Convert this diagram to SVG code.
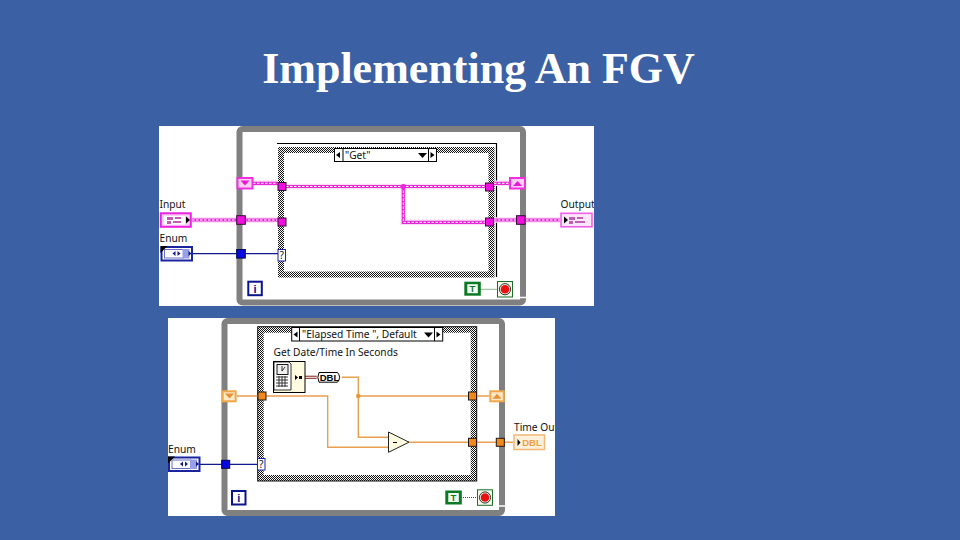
<svg xmlns="http://www.w3.org/2000/svg" width="960" height="540" viewBox="0 0 960 540">
<style>
.t{font-family:"Noto Sans","DejaVu Sans",sans-serif;font-size:10.2px;fill:#111}
.b{font-family:"Liberation Sans",sans-serif;font-weight:bold}
.pk{fill:none;stroke:#e828d8;stroke-width:3.2}
.pd{fill:none;stroke:#fff;stroke-width:1;stroke-dasharray:2.5 1.5}
.pg{fill:none;stroke:#fbdcf8;stroke-width:5.5}
.or{fill:none;stroke:#e8a050;stroke-width:1.4}
.bl{fill:none;stroke:#10188c;stroke-width:1.2}
.lp{fill:none;stroke:#808080}
.tp{fill:#f010e0;stroke:#301030;stroke-width:1}
.to{fill:#f08820;stroke:#201810;stroke-width:1}
.tb{fill:#0808e0;stroke:#000850;stroke-width:1}
.sel{fill:#fff;stroke:#000;stroke-width:1}
.cs{fill:#fff;stroke:url(#chk);stroke-width:6}
</style>
<defs>
<pattern id="chk" width="2" height="2" patternUnits="userSpaceOnUse">
<rect width="2" height="2" fill="#fff"/><rect width="1" height="1" fill="#111"/><rect x="1" y="1" width="1" height="1" fill="#111"/>
</pattern>
<clipPath id="c1"><rect x="159" y="126" width="435" height="180"/></clipPath>
<clipPath id="c2"><rect x="168" y="318" width="387" height="198"/></clipPath>
<g id="ti"><rect x="1" y="1" width="13.500" height="13.500" fill="#fff" stroke="#0a148c" stroke-width="2"/><text x="7.800" y="12" text-anchor="middle" class="b" font-size="11" fill="#0a148c">i</text></g>
<g id="tt"><rect width="16.500" height="14" fill="#0c7a24"/><rect x="3" y="2.500" width="10.500" height="9" fill="#f4fff4"/><text x="8.200" y="10.800" text-anchor="middle" class="b" font-size="9.500" fill="#0c7a24">T</text></g>
<g id="st"><rect x=".5" y=".5" width="15" height="15.500" fill="#f6fbe8" stroke="#1c6c2c"/><circle cx="8" cy="8.200" r="5.600" fill="none" stroke="#333" stroke-width="1"/><circle cx="8" cy="8.200" r="4.300" fill="#e81010"/></g>
<g id="en"><rect x="1" y="1" width="30.500" height="13.500" fill="#fff" stroke="#1a24a0" stroke-width="2"/><rect x="4" y="3.500" width="19" height="8.500" fill="#fff" stroke="#6a70c0"/><rect x="22" y="3" width="7" height="9.500" fill="#9aa0e8"/><path d="M0 0h7L0 7z" fill="#000"/><path d="M15 5v5l-3-2.500zM17 5v5l3-2.500zM28 5v5l3-2.500z" fill="#10188c"/></g>
</defs>
<rect id="background" width="960" height="540" fill="#3c60a4"/>
<text id="title" x="478.500" y="82.700" text-anchor="middle" font-family="Liberation Serif,serif" font-weight="bold" font-size="44" fill="#fff">Implementing An FGV</text>

<g id="panel-get">
<rect x="159" y="126" width="435" height="180" fill="#fff"/>
<rect id="loop1" class="lp" x="239.500" y="129" width="283.500" height="173.500" rx="3" stroke-width="6"/>
<path d="M519 297.500h7" stroke="#fff" stroke-width="1.500"/>
<path d="M277 143.500H496.500V277" fill="none" stroke="#000" stroke-width="1.200"/>
<rect id="case1" class="cs" x="281" y="150" width="210.500" height="124.500"/>
</g>
<g id="connectors-get">
<path class="pg" d="M253 183.300H278M282 186.500H489.500M494 183.300H509M192 220H278M403.300 186.500V222.300H489.500M494 220H560"/>
<path class="pk" d="M253 183.300H278M282 186.500H489.500M494 183.300H509M192 220H278M403.300 186.500V222.300H489.500M494 220H560"/>
<path class="pd" d="M253 183.300H278M282 186.500H489.500M494 183.300H509M192 220H278M403.300 186.500V222.300H489.500M494 220H560"/>
<circle cx="403.300" cy="186.500" r="2.600" fill="#e828d8"/>
<path class="bl" d="M192 253.700H278"/>
<path d="M480.500 289.300H497" stroke="#1c6c2c" stroke-width="1" stroke-dasharray="1 1" fill="none"/>
</g>
<g id="sel1"><rect class="sel" x="334.500" y="148.500" width="102" height="13"/><path class="sel" d="M343 148.500v13M428.500 148.500v13" fill="none"/><path d="M340 152v6l-4-3zM430.500 152v6l4-3zM418 153h9l-4.500 5z" fill="#000"/><text class="t" x="345" y="159">"Get"</text></g>
<g id="sr1-l"><rect x="237.500" y="178" width="15" height="10.500" fill="#fbd0f5" stroke="#f030e0" stroke-width="2"/><path d="M240.500 180.500h9l-4.500 5z" fill="#e818d0"/></g>
<g id="sr1-r"><rect x="510" y="178" width="15" height="10.500" fill="#fbd0f5" stroke="#f030e0" stroke-width="2"/><path d="M513 186h9l-4.500-5z" fill="#e818d0"/></g>
<g id="t1"><rect class="tp" x="278" y="182.500" width="8" height="8"/><rect class="tp" x="278" y="218" width="8" height="8"/><rect class="tp" x="485.500" y="183" width="8" height="8"/><rect class="tp" x="485.500" y="218" width="8" height="8"/><rect class="tp" x="236.700" y="215.700" width="8.600" height="8.600"/><rect class="tp" x="516.500" y="215.700" width="8.600" height="8.600"/><rect class="tb" x="236.700" y="249.500" width="8.600" height="8.600"/></g>
<g id="sel-q1"><rect x="278" y="249.500" width="7.500" height="11.500" fill="#fff" stroke="#1a24a0"/><text x="281.800" y="259" text-anchor="middle" class="t" font-size="9" fill="#1a24a0">?</text></g>
<g id="input"><text class="t" x="159.500" y="208">Input</text><rect x="160.800" y="213.300" width="30" height="13.500" fill="#fbd0f5" stroke="#f020e0" stroke-width="2"/><rect x="164" y="216" width="21" height="8.500" fill="#fff"/><path d="M167 217h6v3h-6zM175 217h6v2h-6zM167 221h4v3h-4zM173 221h8v2h-8z" fill="#c060b0"/><path d="M186 216.500v7l4-3.500z" fill="#000"/></g>
<g id="enum1"><text class="t" x="159.500" y="242">Enum</text><use href="#en" x="160.500" y="246"/></g>
<use id="i1" href="#ti" x="247.300" y="280.700"/>
<use id="t-const1" href="#tt" x="464.300" y="281.700"/>
<use id="stop1" href="#st" x="497" y="281"/>
<g id="output"><text class="t" x="560.500" y="208" clip-path="url(#c1)">Output</text><rect x="561" y="213.300" width="31" height="13.500" fill="#fde6fa" stroke="#f060e8" stroke-width="1.600"/><path d="M564 216.500v7l4-3.500z" fill="#000"/><path d="M569 217h6v3h-6zM577 217h6v2h-6zM569 221h4v3h-4zM575 221h10v2h-10z" fill="#c060b0"/></g>

<g id="panel-elapsed">
<rect x="168" y="318" width="387" height="198" fill="#fff"/>
<rect id="loop2" class="lp" x="224.500" y="321" width="277.500" height="192" rx="3" stroke-width="6"/>
<path d="M499 506h6" stroke="#fff" stroke-width="1.500"/>
<rect id="case2" class="cs" x="260.700" y="329.700" width="213" height="148.300"/>
<rect x="257.700" y="326.700" width="219" height="154.300" fill="none" stroke="#111" stroke-width="1"/>
</g>
<g id="connectors-elapsed">
<path class="or" d="M236.700 396H327.700V447.300H388.300M341.700 377.300H358.300V437.300H388.300M358.300 396H489.300M409 442.300H513.300"/>
<circle cx="358.300" cy="396" r="2.300" fill="#e8953c"/>
<path class="bl" d="M200 464.300H258"/>
<path d="M305 377.300H316.700" stroke="#903030" stroke-width="3.200" fill="none"/><path d="M305 377.300H316.700" stroke="#fff" stroke-width="1" fill="none"/>
<path d="M461 497.500H477.300" stroke="#1c6c2c" stroke-width="1" stroke-dasharray="1 1" fill="none"/>
</g>
<g id="sel2"><rect class="sel" x="291.700" y="327.500" width="151" height="13.500"/><path class="sel" d="M299.500 327.500v13.500M434.500 327.500v13.500" fill="none"/><path d="M297.500 331.500v6l-4-3zM436.500 331.500v6l4-3zM424 332.500h9l-4.500 5z" fill="#000"/><text class="t" x="302" y="338">"Elapsed Time ", Default</text></g>
<text id="getdate-label" class="t" x="273.500" y="355.500">Get Date/Time In Seconds</text>
<g id="datetime-node"><rect x="273.500" y="361.500" width="31.500" height="31" fill="#fffbe0" stroke="#000" stroke-width="1"/><path d="M274 362h15l2 2v26h-17z" fill="#fff" stroke="#000" stroke-width=".8"/><rect x="277" y="364.500" width="11" height="10" fill="#eee" stroke="#000" stroke-width=".9"/><path d="M282 371l3-4M282 366v5" stroke="#000" stroke-width=".8"/><path d="M276 377h12M276 380h12M276 383h12M276 386h12M279 376v11M282 376v11M285 376v11" stroke="#222" stroke-width=".9"/><path d="M295 375v5l3-2.500zM299 376h3v3h-3z" fill="#000"/></g>
<g id="dbl-conv"><path d="M319 372.500H337.500Q341.700 377.300 337.500 382.200H319Q316.700 377.300 319 372.500Z" fill="#fff" stroke="#000" stroke-width="1"/><text x="329.500" y="381" text-anchor="middle" class="b" font-size="9.500" fill="#000">DBL</text></g>
<g id="sr2-l"><rect x="222.700" y="391.300" width="13" height="10" fill="#fde8c8" stroke="#f0a848" stroke-width="2"/><path d="M225 393.500h9l-4.500 5z" fill="#e89030"/></g>
<g id="sr2-r"><rect x="490.300" y="391.300" width="13.500" height="10" fill="#fde8c8" stroke="#f0a848" stroke-width="2"/><path d="M492.500 398.800h9l-4.500-5z" fill="#e89030"/></g>
<g id="t2"><rect class="to" x="258" y="392" width="8" height="8"/><rect class="to" x="468.500" y="392" width="8" height="8"/><rect class="to" x="468.500" y="438.300" width="8" height="8"/><rect class="to" x="496.300" y="438.300" width="8" height="8"/><rect class="tb" x="221.700" y="460.300" width="8" height="8"/></g>
<g id="sel-q2"><rect x="257.500" y="458.500" width="7.500" height="11.500" fill="#fff" stroke="#1a24a0"/><text x="261.300" y="468" text-anchor="middle" class="t" font-size="9" fill="#1a24a0">?</text></g>
<g id="minus"><path d="M388.500 432V452.300L409 442.200Z" fill="#fffbe0" stroke="#222" stroke-width="1"/><path d="M393 442.500h4" stroke="#000"/></g>
<g id="enum2"><text class="t" x="168" y="453">Enum</text><use href="#en" x="168" y="456.500"/></g>
<use id="i2" href="#ti" x="231" y="490"/>
<use id="t-const2" href="#tt" x="445.300" y="490.500"/>
<use id="stop2" href="#st" x="477" y="489.300"/>
<g id="timeout"><text class="t" x="514" y="431" clip-path="url(#c2)">Time Out</text><rect x="514" y="435" width="30.500" height="14.500" fill="#fdf0dc" stroke="#f0b878" stroke-width="1.500"/><path d="M517.500 439v7l3-3.500z" fill="#000"/><text x="532" y="446" text-anchor="middle" class="b" font-size="9.500" fill="#f0a040">DBL</text></g>
</svg>
